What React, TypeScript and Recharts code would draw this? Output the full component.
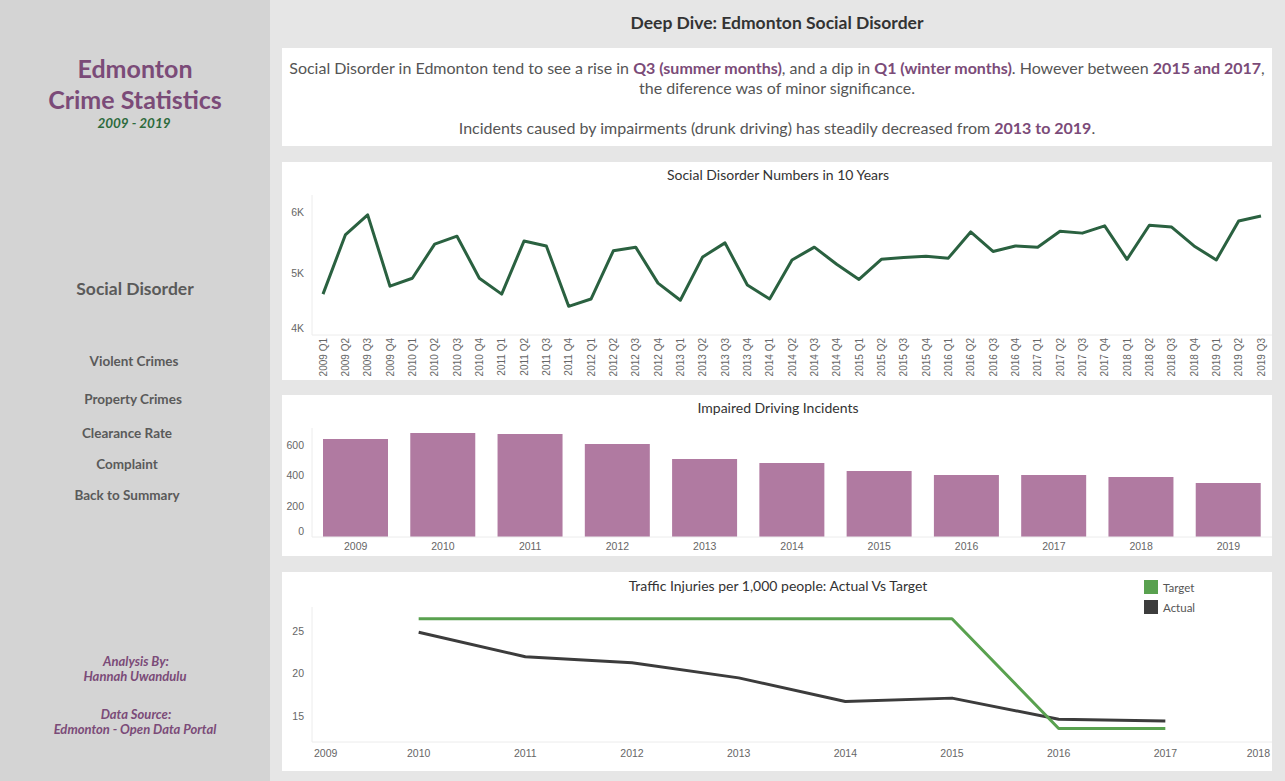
import React from 'react';
import { LineChart, Line, BarChart, Bar, XAxis, YAxis, Legend } from 'recharts';

const quarterLabels = [
  '2009 Q1', '2009 Q2', '2009 Q3', '2009 Q4',
  '2010 Q1', '2010 Q2', '2010 Q3', '2010 Q4',
  '2011 Q1', '2011 Q2', '2011 Q3', '2011 Q4',
  '2012 Q1', '2012 Q2', '2012 Q3', '2012 Q4',
  '2013 Q1', '2013 Q2', '2013 Q3', '2013 Q4',
  '2014 Q1', '2014 Q2', '2014 Q3', '2014 Q4',
  '2015 Q1', '2015 Q2', '2015 Q3', '2015 Q4',
  '2016 Q1', '2016 Q2', '2016 Q3', '2016 Q4',
  '2017 Q1', '2017 Q2', '2017 Q3', '2017 Q4',
  '2018 Q1', '2018 Q2', '2018 Q3', '2018 Q4',
  '2019 Q1', '2019 Q2', '2019 Q3',
];
const socialDisorder = [
  4660, 5630, 5960, 4790,
  4920, 5480, 5610, 4920,
  4660, 5530, 5450, 4460,
  4580, 5370, 5430, 4840,
  4560, 5270, 5500, 4810,
  4580, 5220, 5430, 5150,
  4900, 5230, 5260, 5280,
  5250, 5680, 5360, 5450,
  5430, 5690, 5660, 5780,
  5230, 5790, 5760, 5450,
  5220, 5860, 5940,
];
const socialTicks = [4000, 5000, 6000];

const impairedYears = ['2009', '2010', '2011', '2012', '2013', '2014', '2015', '2016', '2017', '2018', '2019'];
const impairedIncidents = [640, 680, 673, 608, 510, 483, 431, 405, 405, 392, 352];
const impairedTicks = [0, 200, 400, 600];

const trafficYears = [2010, 2011, 2012, 2013, 2014, 2015, 2016, 2017];
const trafficTarget = [26.5, 26.5, 26.5, 26.5, 26.5, 26.5, 13.5, 13.5];
const trafficActual = [24.9, 22.0, 21.3, 19.5, 16.7, 17.1, 14.6, 14.4];
const trafficXTicks = [2009, 2010, 2011, 2012, 2013, 2014, 2015, 2016, 2017, 2018];
const trafficYTicks = [15, 20, 25];
const legendOrder = ['Target', 'Actual'];

const socialData = quarterLabels.map((q, i) => ({ q, value: socialDisorder[i] }));
const impairedData = impairedYears.map((year, i) => ({ year, value: impairedIncidents[i] }));
const trafficData = trafficYears.map((year, i) => ({ year, target: trafficTarget[i], actual: trafficActual[i] }));

const PURPLE = '#7b4b78';
const TICK_FONT = '"Liberation Sans", Arial, sans-serif';
const AXIS_COLOR = '#ececec';

function Txt(props: any) {
  const { cx, cy, size, weight = 400, italic = false, color = '#555', children, width = 400 } = props;
  const lh = Math.round(size * 1.3);
  return (
    <div
      style={{
        position: 'absolute',
        left: cx - width / 2,
        width,
        top: cy - lh / 2,
        height: lh,
        lineHeight: lh + 'px',
        fontSize: size,
        fontWeight: weight,
        fontStyle: italic ? 'italic' : 'normal',
        color,
        textAlign: 'center',
        whiteSpace: 'nowrap',
      }}
    >
      {children}
    </div>
  );
}

function Panel(props: any) {
  const { top, height, children } = props;
  return (
    <div style={{ position: 'absolute', left: 282, top, width: 990, height, background: '#ffffff' }}>{children}</div>
  );
}

const B = (props: any) => <span style={{ fontWeight: 700, color: PURPLE }}>{props.children}</span>;

const RotTick = (props: any) => {
  const { x, y, payload } = props;
  return (
    <text
      x={x}
      y={y}
      transform={`rotate(-90, ${x}, ${y})`}
      textAnchor="end"
      dy="0.35em"
      fontSize={10}
      fill="#666"
      fontFamily={TICK_FONT}
    >
      {payload.value}
    </text>
  );
};

const makeYTick = (shiftVal: number | null, fmt: (v: number) => string) => (props: any) => {
  const { x, y, payload } = props;
  const shift = shiftVal !== null && payload.value === shiftVal ? -6 : 0;
  return (
    <text x={x} y={y + shift} textAnchor="end" dy="0.35em" fontSize={10.5} fill="#666" fontFamily={TICK_FONT}>
      {fmt(payload.value)}
    </text>
  );
};

const SocialYTick = makeYTick(4000, (v) => v / 1000 + 'K');
const ImpairedYTick = makeYTick(0, (v) => String(v));
const TrafficYTick = makeYTick(null, (v) => String(v));

const BottomTick = (props: any) => {
  const { x, y, payload } = props;
  return (
    <text x={x} y={y} textAnchor="middle" dy="0.71em" fontSize={10.5} fill="#666" fontFamily={TICK_FONT}>
      {payload.value}
    </text>
  );
};

const TrafficXTick = (props: any) => {
  const { x, y, payload } = props;
  const first = payload.value === trafficXTicks[0];
  const last = payload.value === trafficXTicks[trafficXTicks.length - 1];
  const anchor = first ? 'start' : last ? 'end' : 'middle';
  const xx = first ? x + 2 : last ? x - 2 : x;
  return (
    <text x={xx} y={y} textAnchor={anchor} dy="0.71em" fontSize={10.5} fill="#666" fontFamily={TICK_FONT}>
      {payload.value}
    </text>
  );
};

const TrafficLegend = (props: any) => {
  const items = [...(props.payload || [])].sort(
    (a: any, b: any) => legendOrder.indexOf(a.value) - legendOrder.indexOf(b.value)
  );
  return (
    <div>
      {items.map((it: any) => (
        <div key={it.value} style={{ display: 'flex', alignItems: 'center', height: 20 }}>
          <div style={{ width: 14, height: 14, background: it.color, marginRight: 5 }} />
          <span style={{ fontSize: 11.5, color: '#555', fontFamily: 'Lato, sans-serif' }}>{it.value}</span>
        </div>
      ))}
    </div>
  );
};

export default function App() {
  return (
    <div
      style={{
        position: 'absolute',
        left: 0,
        top: 0,
        width: 1285,
        height: 781,
        background: '#e6e6e6',
        overflow: 'hidden',
        fontFamily: 'Lato, "Open Sans", sans-serif',
      }}
    >
      {/* Sidebar */}
      <div style={{ position: 'absolute', left: 0, top: 0, width: 270, height: 781, background: '#d4d4d4' }} />
      <Txt cx={135} cy={68} size={25} weight={700} color={PURPLE}>Edmonton</Txt>
      <Txt cx={135} cy={99} size={25} weight={700} color={PURPLE}>Crime Statistics</Txt>
      <Txt cx={134} cy={123} size={13.5} weight={700} italic color="#2e6b3d">2009 - 2019</Txt>
      <Txt cx={135} cy={288} size={17.5} weight={700} color="#5a5a5a">Social Disorder</Txt>
      <Txt cx={134} cy={361} size={13.5} weight={700} color="#5a5a5a">Violent Crimes</Txt>
      <Txt cx={133} cy={399} size={13.5} weight={700} color="#5a5a5a">Property Crimes</Txt>
      <Txt cx={127} cy={433} size={13.5} weight={700} color="#5a5a5a">Clearance Rate</Txt>
      <Txt cx={127} cy={464} size={13.5} weight={700} color="#5a5a5a">Complaint</Txt>
      <Txt cx={127} cy={495} size={13.5} weight={700} color="#5a5a5a">Back to Summary</Txt>
      <Txt cx={136} cy={661} size={13} weight={700} italic color={PURPLE}>Analysis By:</Txt>
      <Txt cx={135} cy={676} size={13} weight={700} italic color={PURPLE}>Hannah Uwandulu</Txt>
      <Txt cx={136} cy={714} size={13} weight={700} italic color={PURPLE}>Data Source:</Txt>
      <Txt cx={135} cy={729} size={13} weight={700} italic color={PURPLE}>Edmonton - Open Data Portal</Txt>

      {/* Header */}
      <Txt cx={777} cy={22} size={17.5} weight={700} color="#333">Deep Dive: Edmonton Social Disorder</Txt>
      <Panel top={48} height={98} />
      <Txt cx={777} cy={67} size={16} color="#555" width={1000}>
        Social Disorder in Edmonton tend to see a rise in <B>Q3 (summer months)</B>, and a dip in <B>Q1 (winter months)</B>. However between <B>2015 and 2017</B>,
      </Txt>
      <Txt cx={777} cy={87} size={16} color="#555" width={1000}>the diference was of minor significance.</Txt>
      <Txt cx={777} cy={127} size={16} color="#555" width={1000}>
        Incidents caused by impairments (drunk driving) has steadily decreased from <B>2013 to 2019</B>.
      </Txt>

      {/* Chart 1 */}
      <Panel top={162} height={218}>
        <LineChart width={990} height={218} data={socialData} margin={{ top: 33, right: 0, bottom: 0, left: 0 }}>
          <XAxis
            dataKey="q"
            interval={0}
            height={45}
            padding={{ left: 11, right: 11 }}
            tickLine={false}
            tickSize={3}
            tickMargin={0}
            axisLine={{ stroke: AXIS_COLOR }}
            tick={<RotTick />}
          />
          <YAxis
            width={30}
            domain={[3990, 6285]}
            ticks={socialTicks}
            tickLine={false}
            axisLine={{ stroke: AXIS_COLOR }}
            tick={<SocialYTick />}
          />
          <Line
            type="linear"
            dataKey="value"
            stroke="#2a6140"
            strokeWidth={3}
            dot={false}
            strokeLinejoin="round"
            isAnimationActive={false}
          />
        </LineChart>
        <Txt cx={496} cy={13} size={14} color="#333">Social Disorder Numbers in 10 Years</Txt>
      </Panel>

      {/* Chart 2 */}
      <Panel top={395} height={161}>
        <BarChart width={990} height={161} data={impairedData} margin={{ top: 33, right: 0, bottom: 0, left: 0 }}>
          <XAxis
            dataKey="year"
            interval={0}
            height={19}
            tickLine={false}
            tickSize={4}
            tickMargin={2}
            axisLine={{ stroke: AXIS_COLOR }}
            tick={<BottomTick />}
          />
          <YAxis
            width={30}
            domain={[0, 712]}
            ticks={impairedTicks}
            tickLine={false}
            axisLine={{ stroke: AXIS_COLOR }}
            tick={<ImpairedYTick />}
          />
          <Bar dataKey="value" fill="#b07aa1" barSize={65} isAnimationActive={false} />
        </BarChart>
        <Txt cx={496} cy={13} size={14} color="#333">Impaired Driving Incidents</Txt>
      </Panel>

      {/* Chart 3 */}
      <Panel top={572} height={199}>
        <LineChart width={990} height={199} data={trafficData} margin={{ top: 35, right: 0, bottom: 0, left: 0 }}>
          <XAxis
            dataKey="year"
            type="number"
            domain={[2009, 2018]}
            ticks={trafficXTicks}
            interval={0}
            height={29}
            tickLine={false}
            tickSize={6}
            tickMargin={2}
            axisLine={{ stroke: AXIS_COLOR }}
            tick={<TrafficXTick />}
          />
          <YAxis
            width={30}
            domain={[11.9, 27.9]}
            ticks={trafficYTicks}
            tickLine={false}
            axisLine={{ stroke: AXIS_COLOR }}
            tick={<TrafficYTick />}
          />
          <Legend
            layout="vertical"
            align="center"
            verticalAlign="middle"
            wrapperStyle={{ left: 862, top: 5, width: 100 }}
            content={<TrafficLegend />}
          />
          <Line
            type="linear"
            dataKey="actual"
            name="Actual"
            stroke="#3c3c3c"
            strokeWidth={3}
            dot={false}
            strokeLinejoin="round"
            isAnimationActive={false}
          />
          <Line
            type="linear"
            dataKey="target"
            name="Target"
            stroke="#59a14f"
            strokeWidth={3}
            dot={false}
            strokeLinejoin="round"
            isAnimationActive={false}
          />
        </LineChart>
        <Txt cx={496} cy={14} size={14} color="#333">Traffic Injuries per 1,000 people: Actual Vs Target</Txt>
      </Panel>
    </div>
  );
}
